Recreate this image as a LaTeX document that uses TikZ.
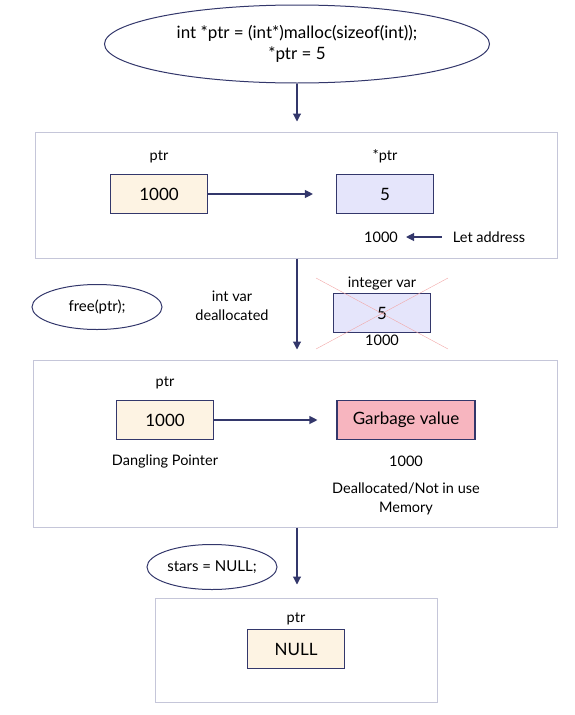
\documentclass[tikz,border=0pt]{standalone}
\usepackage{fontspec}
\setmainfont{Lato}
\usetikzlibrary{arrows.meta,shapes.geometric,positioning}
\definecolor{navy}{HTML}{33376B}
\definecolor{framegray}{HTML}{C5C6D9}
\definecolor{cream}{HTML}{FDF3E3}
\definecolor{lav}{HTML}{E5E5FB}
\definecolor{garbage}{HTML}{F7B5BF}
\definecolor{crossred}{HTML}{F2A7A7}
\tikzstyle{Aop}=[draw=navy,line width=1pt,ellipse,inner sep=0,align=center,
                font=\fontsize{15}{21}\selectfont]
\tikzstyle{Aframe}=[draw=framegray,line width=1pt,rectangle,inner sep=0]
\tikzstyle{Acell}=[draw=navy,line width=1.1pt,rectangle,minimum width=97pt,
                minimum height=39pt,font=\fontsize{17}{20}\selectfont]
\tikzstyle{Alabel}=[inner sep=1pt,align=center,font=\fontsize{14.5}{19}\selectfont]
\tikzstyle{hit}=[every edge/.style={draw=navy,line width=1.1pt,
                -{Triangle[length=8pt,width=8pt]}}]

\begin{document}
\begin{tikzpicture}[x=1pt,y=-1pt]
\useasboundingbox (0,0) rectangle (575,715);

% allocation
\node[Aop,minimum width=385pt,minimum height=78pt,font=\fontsize{17}{21}\selectfont]
  (malloc) at (297,44) {int *ptr = (int*)malloc(sizeof(int));\\{}*ptr = 5};
\node[Aframe,minimum width=522pt,minimum height=126pt] (frameA) at (296,195) {};
\node[Acell,fill=cream] (ptrA) at (159,194) {1000};
\node[Alabel,above=10pt of ptrA] (ptrAlab) {ptr};
\node[Acell,fill=lav] (valA) at (385,194) {5};
\node[Alabel,above=10pt of valA] (valAlab) {*ptr};
\node[Alabel] (addrA) at (381,237) {1000};
\node[Alabel] (letA) at (489,237) {Let address};

% free
\node[Aop,minimum width=130pt,minimum height=45pt] (free) at (97,307) {free(ptr);};
\node[Alabel] (dealloc) at (232,306) {int var\\deallocated};
\node[Acell,fill=lav] (dead) at (382,313) {5};
\node[Alabel,above=2pt of dead] (deadlab) {integer var};
\node[Alabel,below=1pt of dead] (deadaddr) {1000};
\draw[crossred] (316,278) -- (448,349) (316,349) -- (448,278);

% dangling
\node[Aframe,minimum width=524pt,minimum height=167pt] (frameB) at (295,443.5) {};
\node[Acell,fill=cream] (ptrB) at (165,420) {1000};
\node[Alabel,above=10pt of ptrB] (ptrBlab) {ptr};
\node[Alabel,below=14pt of ptrB] (dangle) {Dangling Pointer};
\node[Acell,fill=garbage,minimum width=138pt] (garb) at (406,420) {Garbage value};
\node[Alabel,below=15pt of garb] (garbaddr) {1000};
\node[Alabel,below=14pt of garbaddr] (garbnote) {Deallocated/Not in use\\Memory};

% null
\node[Aop,minimum width=130pt,minimum height=45pt] (setnull) at (212,567) {stars = NULL;};
\node[Aframe,minimum width=282pt,minimum height=104pt] (frameC) at (296,650) {};
\node[Acell,fill=cream] (ptrC) at (296,649) {NULL};
\node[Alabel,above=3pt of ptrC] (ptrClab) {ptr};

\path[hit]
(malloc) edge[shorten >=10pt] (malloc |- frameA.north)
(ptrA) edge[shorten >=23pt] (valA)
(letA) edge[shorten >=7pt,shorten <=10pt] (addrA)
(frameA.south -| malloc) edge[shorten >=10pt] (frameB.north -| malloc)
(ptrB) edge[shorten >=19pt] (garb)
(frameB.south -| malloc) edge[shorten >=13pt] (frameC.north -| malloc)
;
\end{tikzpicture}
\end{document}
